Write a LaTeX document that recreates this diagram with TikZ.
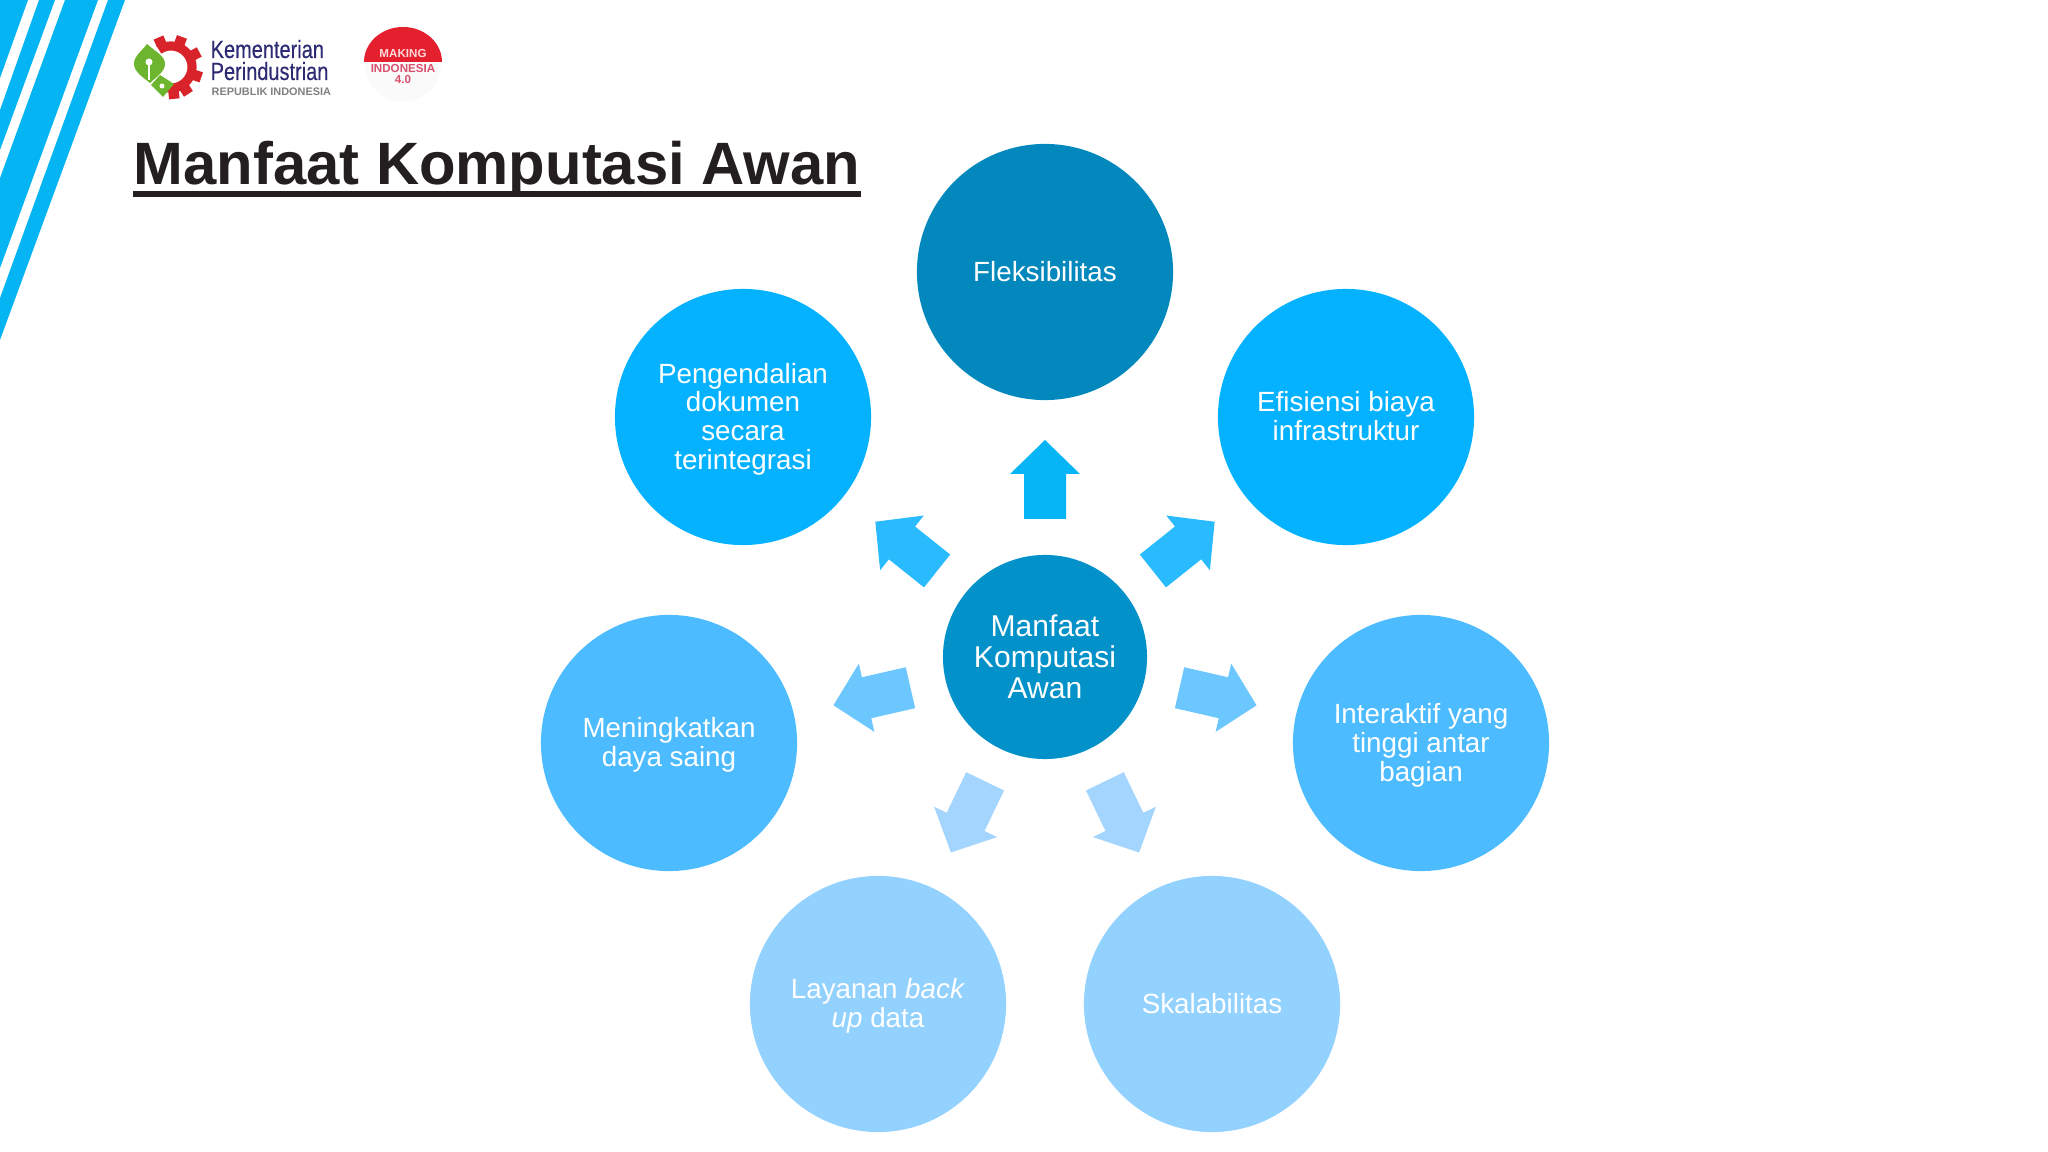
\documentclass[tikz,border=0pt]{standalone}
\usepackage{fontspec}
\setmainfont{Liberation Sans}
\newfontfamily\logofont[FakeStretch=0.8,FakeBold=0.25]{Liberation Sans}
\definecolor{stripeblue}{HTML}{05B4F2}
\definecolor{gearred}{HTML}{D9232B}
\definecolor{leafgreen}{HTML}{6DB52F}
\definecolor{logonavy}{HTML}{2B2A72}
\definecolor{titleblack}{HTML}{231F20}
\definecolor{badgered}{HTML}{E5202E}
\definecolor{badgetext}{HTML}{D9506E}
\tikzset{
benefit/.style={circle,minimum size=2.56cm,inner sep=0pt,align=center,text=white,text depth=0.4pt,font=\fontsize{7.9}{8.2}\selectfont},
hub/.style={circle,minimum size=2.04cm,inner sep=0pt,align=center,text=white,font=\fontsize{8.55}{8.8}\selectfont},
logotext/.style={anchor=base west,inner sep=0pt}
}
\begin{document}
\begin{tikzpicture}[x=0.01cm,y=-0.01cm]
\useasboundingbox (0,0) rectangle (2048,1152);

\fill[stripeblue] (0,0) -- (28,0) -- (0,78) -- cycle;
\fill[stripeblue] (39,0) -- (55,0) -- (0,150) -- (0,110) -- cycle;
\fill[stripeblue] (65,0) -- (98,0) -- (0,268) -- (0,178) -- cycle;
\fill[stripeblue] (108,0) -- (125,0) -- (0,340) -- (0,298) -- cycle;

\draw[gearred,line width=2.6pt] plot[domain=-125:100,samples=40] ({171+21*cos(\x)},{67+21*sin(\x)});
\foreach \a in {-113,-70,-28,19,57,84}
  \draw[gearred,line width=3pt] ({171+24*cos(\a)},{67+24*sin(\a)}) -- ({171+32*cos(\a)},{67+32*sin(\a)});
\fill[leafgreen] (147,44) .. controls (156,52) and (165,56) .. (165,64) .. controls (165,72) and (155,78) .. (150,83) .. controls (144,78) and (134,72) .. (134,64) .. controls (134,56) and (141,52) .. (147,44) -- cycle;
\fill[leafgreen] (151,85) -- (160,75) -- (174,84) -- (163,97) -- cycle;
\fill[white] (149,62) circle (3.5);
\draw[white,line width=0.3pt] (149,64) -- (149,80);
\fill[white] (162,86) circle (2.5);
\node[logotext,text=logonavy,font=\logofont\fontsize{7.1}{8}\selectfont] (ministry) at (210,58) {Kementerian};
\node[logotext,text=logonavy,font=\logofont\fontsize{7.1}{8}\selectfont] (industry) at (210,80) {Perindustrian};
\node[logotext,text=gray,font=\bfseries\fontsize{3.1}{4}\selectfont] (republic) at (211,96) {REPUBLIK INDONESIA};

\fill[gray!4] (403,64) circle (38);
\fill[badgered] plot[domain=180:360,samples=40] ({403+39*cos(\x)},{62+35*sin(\x)}) -- cycle;
\node[inner sep=0pt,text=white!85!red,font=\bfseries\fontsize{3.3}{3.4}\selectfont] (making) at (403,54) {MAKING};
\node[inner sep=0pt,text=badgetext,align=center,font=\bfseries\fontsize{3.3}{3.1}\selectfont] (indonesia) at (403,74) {INDONESIA\\4.0};

\node[anchor=base west,inner sep=0pt,text=titleblack,font=\bfseries\fontsize{17}{20}\selectfont] (title) at (133,185) {Manfaat Komputasi Awan};
\draw[titleblack,line width=1.7pt] ([yshift=-0.09cm]title.base west) -- ([yshift=-0.09cm]title.base east);

\node[hub] (center) at (1045,657) {};
\foreach \a/\col in {0/05B5F5,51.43/2ABBFF,102.86/6CC7FF,154.29/A3D5FF,205.71/A3D5FF,257.14/6CC7FF,308.57/2ABBFF}{
  \definecolor{arrowfill}{HTML}{\col}
  \fill[arrowfill,shift={(center.center)},rotate=-\a] (-21,-138) -- (-21,-183) -- (-35,-183) -- (0,-217) -- (35,-183) -- (21,-183) -- (21,-138) -- cycle;
}

\definecolor{tone1}{HTML}{0288BD}
\definecolor{tone2}{HTML}{05B2FF}
\definecolor{tone3}{HTML}{4DBBFF}
\definecolor{tone4}{HTML}{93D1FF}
\definecolor{tone0}{HTML}{0291C8}
\node[hub,fill=tone0] (center) at (1045,657) {Manfaat\\Komputasi\\Awan};
\node[benefit,fill=tone1] (flex) at (1045,272) {Fleksibilitas};
\node[benefit,fill=tone2] (cost) at (1346,417) {Efisiensi biaya\\infrastruktur};
\node[benefit,fill=tone3] (interact) at (1421,743) {Interaktif yang\\tinggi antar\\bagian};
\node[benefit,fill=tone4] (scale) at (1212,1004) {Skalabilitas};
\node[benefit,fill=tone4] (backup) at (878,1004) {Layanan \textit{back}\\\textit{up} data};
\node[benefit,fill=tone3] (compete) at (669,743) {Meningkatkan\\daya saing};
\node[benefit,fill=tone2] (control) at (743,417) {Pengendalian\\dokumen\\secara\\terintegrasi};
\end{tikzpicture}
\end{document}
